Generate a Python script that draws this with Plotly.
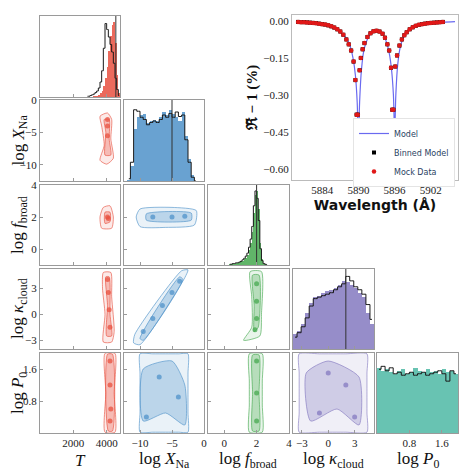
import plotly.graph_objects as go

W = H = 474
OFF = 8  # page body margin the browser adds around the plot div

# panel pixel boxes (left, right) per column and (top, bottom) per row
COLS = [(40, 120), (124, 204), (208, 289), (293, 374), (377, 458)]
ROWS = [(16, 97), (100, 181), (185, 265), (269, 349), (353, 433)]
COLORS = ["#e8503f", "#4f92c9", "#45a84f", "#8479c0", "#4db8a4"]

# parameter ranges, ticks and labels
ranges = [[0, 4800], [-12.5, 0], [-1, 4], [-4, 5.2], [0, 2]]
ticks = [[2000, 4000], [-10, -5, 0], [0, 2, 4], [-3, 0, 3], [0.8, 1.6]]
labels = ["<i>T</i>", "log <i>X</i><sub>Na</sub>", "log <i>f</i><sub>broad</sub>",
          "log <i>κ</i><sub>cloud</sub>", "log <i>P</i><sub>0</sub>"]
truths = [4550, -5, 2.0, 2.0, None]

# 1D histograms: bin start, bin width, filled (posterior) counts, black (reference) counts
T_start, T_width = 2800, 100
T_fill = [0, 0, 0, 0, 1, 1, 2, 3, 5, 8, 15, 25, 40, 62, 82, 96, 100, 72, 30, 5]
T_line = [1, 1, 2, 3, 4, 6, 8, 12, 20, 35, 65, 98, 90, 80, 70, 60, 45, 25, 10, 2]
X_start, X_width = -12, 0.5
X_fill = [2, 20, 70, 85, 88, 90, 78, 80, 82, 80, 85, 92, 88, 95, 90, 85, 80, 92, 60, 30, 8, 0]
X_line = [3, 25, 95, 93, 85, 82, 75, 78, 80, 78, 82, 88, 85, 90, 85, 92, 86, 88, 55, 25, 5, 0]
F_start, F_width = 0.3, 0.1
F_fill = [1, 1, 2, 2, 3, 3, 4, 5, 6, 8, 10, 14, 20, 30, 45, 70, 95, 100, 75, 30, 8, 2, 1, 0]
F_line = [1, 1, 2, 2, 3, 3, 4, 5, 7, 9, 12, 16, 24, 35, 52, 80, 100, 90, 60, 22, 6, 2, 1, 0]
K_start, K_width = -4, 0.46
K_fill = [20, 24, 34, 48, 62, 70, 72, 76, 78, 80, 82, 86, 92, 90, 86, 82, 76, 70, 48, 34]
K_line = [16, 22, 30, 42, 58, 68, 70, 72, 74, 76, 80, 84, 88, 98, 92, 84, 80, 74, 60, 40]
P_start, P_width = 0, 0.1
P_fill = [88, 84, 86, 82, 80, 84, 86, 80, 82, 88, 84, 82, 86, 82, 84, 80, 86, 82, 84, 80]
P_line = [86, 90, 84, 88, 80, 82, 78, 80, 82, 78, 80, 82, 78, 80, 82, 84, 80, 70, 84, 80]
hists = [(T_start, T_width, T_fill, T_line), (X_start, X_width, X_fill, X_line),
         (F_start, F_width, F_fill, F_line), (K_start, K_width, K_fill, K_line),
         (P_start, P_width, P_fill, P_line)]

# 2D credible-region outlines (outer, inner) per (row, col) panel
contours = {
    (1, 0): [[(3600, -2.5), (4050, -2), (4300, -3), (4250, -6), (4400, -9), (4000, -9.9), (3600, -9.3), (3850, -7), (3700, -4)],
             [(3850, -3), (4150, -3), (4150, -6), (4250, -8.5), (3900, -8.5), (3950, -5)]],
    (2, 0): [[(3700, 1.3), (4300, 1.3), (4400, 2), (4200, 2.7), (3800, 2.6), (3600, 2)],
             [(3900, 1.6), (4200, 1.7), (4200, 2.3), (3900, 2.3)]],
    (3, 0): [[(3800, 4.8), (4250, 4.8), (4300, 2), (4450, -2), (4300, -3.2), (3800, -3.2), (3900, 0), (3750, 3)],
             [(3950, 4.3), (4150, 4.3), (4200, 0), (4300, -2.5), (4000, -2.5), (4050, 1)]],
    (4, 0): [[(3900, 1.99), (4500, 1.99), (4450, 1), (4500, 0.02), (3900, 0.02), (3950, 1)],
             [(4050, 1.97), (4350, 1.97), (4350, 0.05), (4100, 0.05)]],
    (2, 1): [[(-10, 1.4), (-6, 1.35), (-1.5, 1.5), (-1.2, 2.4), (-5, 2.6), (-10, 2.5), (-10.6, 2)],
             [(-9, 1.8), (-2, 1.8), (-2, 2.25), (-9, 2.2)]],
    (3, 1): [[(-11, -3.3), (-10, -3.5), (-3, 4.2), (-2.5, 5.1), (-3.5, 5), (-10.8, -2.3)],
             [(-10, -2.8), (-9.5, -3), (-3.3, 4), (-3.8, 4.3)]],
    (4, 1): [[(-10, 0.02), (-8, 0.02), (-6, 0.02), (-4, 0.02), (-2.5, 0.02), (-2.5, 0.5), (-2.5, 1), (-2.5, 1.5),
              (-2.5, 1.98), (-4, 1.98), (-6, 1.98), (-8, 1.98), (-10, 1.98), (-10, 1.5), (-10, 1), (-10, 0.5)],
             [(-9.5, 0.3), (-6, 0.5), (-3, 0.2), (-3, 1.2), (-5, 1.8), (-9.5, 1.6)]],
    (3, 2): [[(1.6, 4.9), (2.3, 4.9), (2.3, 0), (2.2, -2.5), (1.2, -3), (1.7, -1.5), (1.7, 2)],
             [(1.75, 4.5), (2.15, 4.5), (2.1, -1.5), (1.85, -2), (1.85, 1)]],
    (4, 2): [[(1.55, 0.02), (2.35, 0.02), (2.35, 0.7), (2.35, 1.3), (2.35, 1.98), (1.55, 1.98), (1.55, 1.3), (1.55, 0.7)],
             [(1.75, 0.05), (2.15, 0.05), (2.15, 1), (2.15, 1.95), (1.75, 1.95), (1.75, 1)]],
    (4, 3): [[(-3.3, 0.02), (-1, 0.02), (2, 0.02), (4.4, 0.02), (4.4, 0.5), (4.4, 1), (4.4, 1.5), (4.4, 1.98),
              (2, 1.98), (-1, 1.98), (-3.3, 1.98), (-3.3, 1.5), (-3.3, 1), (-3.3, 0.5)],
             [(-2, 0.3), (1, 0.6), (3.5, 0.2), (3.5, 1.4), (0, 1.8), (-2.5, 1.5)]],
}
# high-density spots inside each panel
spots = {
    (1, 0): [(4050, -3), (4050, -5.5), (4050, -4)],
    (2, 0): [(4050, 2), (4100, 1.9)],
    (3, 0): [(4050, 4), (4100, 2.5), (4150, 0.5), (4200, -1.5)],
    (4, 0): [(4200, 1.8), (4200, 1.2), (4250, 0.6), (4200, 0.3)],
    (2, 1): [(-8, 2), (-5, 2), (-3, 2.05)],
    (3, 1): [(-9.5, -2), (-8, -0.5), (-6.5, 1), (-5, 2.5), (-3.8, 3.8)],
    (4, 1): [(-9, 0.4), (-4, 0.9), (-7, 1.4)],
    (3, 2): [(2, 3.5), (2, 1.5), (2, -0.5), (1.9, -1.8)],
    (4, 2): [(2, 1.8), (2, 1.0), (2, 0.3)],
    (4, 3): [(-1, 0.5), (2, 1.2), (0, 1.5), (3, 0.4)],
}

# transmission spectrum inset
model_wl = [5880, 5882, 5884, 5885, 5886, 5887, 5888, 5888.6, 5889.1, 5889.5, 5889.8, 5890, 5890.2, 5890.5,
            5890.9, 5891.4, 5892, 5892.6, 5893, 5893.6, 5894.2, 5894.7, 5895.1, 5895.5, 5895.8, 5896,
            5896.2, 5896.5, 5896.9, 5897.4, 5898, 5899, 5900, 5901, 5902, 5904, 5906]
model_val = [-0.005, -0.008, -0.015, -0.02, -0.03, -0.045, -0.07, -0.10, -0.15, -0.22, -0.33, -0.50, -0.33,
             -0.20, -0.12, -0.08, -0.05, -0.04, -0.04, -0.045, -0.06, -0.09, -0.13, -0.2, -0.3, -0.46,
             -0.3, -0.18, -0.11, -0.07, -0.045, -0.025, -0.016, -0.011, -0.008, -0.005, -0.003]
mock_wl = [5880, 5880.5, 5881, 5881.5, 5882, 5882.5, 5883, 5883.5, 5884, 5884.5, 5885, 5885.5, 5886, 5886.5,
           5887, 5887.5, 5888, 5888.4, 5888.8, 5889.2, 5889.5, 5889.7, 5889.9, 5890.2, 5890.4, 5890.7,
           5891, 5891.5, 5892, 5892.5, 5893, 5893.5, 5894, 5894.4, 5894.8, 5895.1, 5895.4, 5895.6,
           5895.8, 5896.1, 5896.4, 5896.8, 5897.2, 5897.6, 5898, 5898.5, 5899, 5899.5, 5900, 5900.5,
           5901, 5901.5, 5902, 5902.5, 5903, 5903.5, 5904]
mock_val = [-0.004, -0.005, -0.005, -0.006, -0.007, -0.008, -0.009, -0.011, -0.013, -0.015, -0.018, -0.022,
            -0.027, -0.034, -0.043, -0.056, -0.075, -0.095, -0.12, -0.165, -0.24, -0.38, -0.38, -0.2,
            -0.15, -0.115, -0.09, -0.065, -0.05, -0.042, -0.04, -0.043, -0.052, -0.068, -0.095, -0.12,
            -0.19, -0.36, -0.36, -0.185, -0.14, -0.1, -0.075, -0.058, -0.046, -0.034, -0.026, -0.02,
            -0.016, -0.013, -0.011, -0.009, -0.008, -0.007, -0.006, -0.005, -0.004]
binned_val = mock_val
wl_ticks = [5884, 5890, 5896, 5902]
res_ticks = [0.0, -0.15, -0.30, -0.45, -0.60]


def rgba(hex_color, a):
    h = hex_color.lstrip("#")
    return "rgba(%d,%d,%d,%s)" % (int(h[0:2], 16), int(h[2:4], 16), int(h[4:6], 16), a)


def px(x):
    return (x - OFF) / W


def py(y):
    return 1 - (y - OFF) / H


fig = go.Figure()
layout = {}
SERIF = "Liberation Serif"
n = 0


def add_axes(row, col):
    global n
    n += 1
    x0, x1 = COLS[col]
    y0, y1 = ROWS[row]
    common = dict(showgrid=False, zeroline=False, showline=True, mirror=True, linecolor="#9a9a9a",
                  linewidth=1, ticks="inside", ticklen=3, tickcolor="#9a9a9a",
                  tickfont=dict(family=SERIF, size=11, color="#222"))
    layout["xaxis%d" % n] = dict(common, domain=[px(x0), px(x1)], anchor="y%d" % n, range=ranges[col],
                                 tickvals=ticks[col], showticklabels=(row == 4))
    yax = dict(common, domain=[py(y1), py(y0)], anchor="x%d" % n,
               showticklabels=(col == 0 and row != 0))
    if row != col:
        yax.update(range=ranges[row], tickvals=ticks[row])
    else:
        yax.update(range=[0, 108], showticklabels=False, ticks="")
    layout["yaxis%d" % n] = yax
    return "x%d" % n, "y%d" % n


for row in range(5):
    for col in range(row + 1):
        xa, ya = add_axes(row, col)
        c = COLORS[col]
        if row == col:
            start, width, fill, line = hists[col]
            centers = [start + width * (i + 0.5) for i in range(len(fill))]
            fig.add_trace(go.Bar(x=centers, y=fill, width=width, marker_color=rgba(c, 0.85),
                                 marker_line_width=0, xaxis=xa, yaxis=ya, showlegend=False))
            fig.add_trace(go.Scatter(x=centers, y=line, mode="lines", line_shape="hvh",
                                     line=dict(color="#1a1a1a", width=1), xaxis=xa, yaxis=ya,
                                     showlegend=False))
            if truths[col] is not None:
                fig.add_trace(go.Scatter(x=[truths[col], truths[col]], y=[0, 108], mode="lines",
                                         line=dict(color="#333", width=1), xaxis=xa, yaxis=ya,
                                         showlegend=False))
        else:
            outer, inner = contours[(row, col)]
            for poly, a in ((outer, 0.12), (inner, 0.3)):
                xs = [p[0] for p in poly] + [poly[0][0]]
                ys = [p[1] for p in poly] + [poly[0][1]]
                fig.add_trace(go.Scatter(x=xs, y=ys, mode="lines", fill="toself", fillcolor=rgba(c, a),
                                         line=dict(color=rgba(c, 0.8), width=0.8, shape="spline", smoothing=0.6),
                                         xaxis=xa, yaxis=ya, showlegend=False))
            sp = spots[(row, col)]
            fig.add_trace(go.Scatter(x=[p[0] for p in sp], y=[p[1] for p in sp], mode="markers",
                                     marker=dict(color=rgba(c, 0.75), size=5), xaxis=xa, yaxis=ya,
                                     showlegend=False))

# inset spectrum
n += 1
layout["xaxis%d" % n] = dict(domain=[px(292), px(458)], anchor="y%d" % n, range=[5879, 5906.5],
                             tickvals=wl_ticks, showgrid=False, zeroline=False, showline=True, mirror=True,
                             linecolor="#bbb", ticks="", tickfont=dict(family=SERIF, size=11, color="#222"),
                             title=dict(text="<b>Wavelength (Å)</b>", standoff=4,
                                        font=dict(family="DejaVu Sans", size=14, color="#111")))
layout["yaxis%d" % n] = dict(domain=[py(180), py(15)], anchor="x%d" % n, range=[-0.645, 0.024],
                             tickvals=res_ticks, ticktext=["0.00", "−0.15", "−0.30", "−0.45", "−0.60"],
                             showgrid=False, zeroline=False, showline=True, mirror=True, linecolor="#bbb",
                             ticks="", tickfont=dict(family=SERIF, size=11, color="#222"),
                             title=dict(text="<b>ℜ̃ − 1 (%)</b>", standoff=2,
                                        font=dict(family=SERIF, size=15, color="#111")))
xa, ya = "x%d" % n, "y%d" % n
fig.add_trace(go.Scatter(x=model_wl, y=model_val, mode="lines", line=dict(color="#6a6af0", width=1.2),
                         line_shape="spline", name="Model", xaxis=xa, yaxis=ya))
fig.add_trace(go.Scatter(x=mock_wl, y=binned_val, mode="markers", marker=dict(color="black", size=4, symbol="square"),
                         name="Binned Model", xaxis=xa, yaxis=ya))
fig.add_trace(go.Scatter(x=mock_wl, y=mock_val, mode="markers", marker=dict(color="#e01818", size=4.5),
                         name="Mock Data", xaxis=xa, yaxis=ya))

# corner axis titles
ann = []
for i, lab in enumerate(labels):
    cx = (COLS[i][0] + COLS[i][1]) / 2
    ann.append(dict(text=lab, x=px(cx), y=py(460), xref="paper", yref="paper", showarrow=False,
                    xanchor="center", yanchor="middle", font=dict(family=SERIF, size=17, color="#111")))
    if i > 0:
        cy = (ROWS[i][0] + ROWS[i][1]) / 2
        ann.append(dict(text=lab, x=px(19), y=py(cy), xref="paper", yref="paper", showarrow=False,
                        xanchor="center", yanchor="middle", textangle=-90,
                        font=dict(family=SERIF, size=17, color="#111")))

fig.update_layout(width=W, height=H, margin=dict(l=0, r=0, t=0, b=0, autoexpand=False), plot_bgcolor="white",
                  paper_bgcolor="white", bargap=0, annotations=ann,
                  legend=dict(x=px(455), y=py(118), xanchor="right", yanchor="top", bgcolor="white",
                              bordercolor="#e4e4e4", borderwidth=1, font=dict(family="DejaVu Sans", size=8),
                              tracegroupgap=0, itemwidth=30),
                  **layout)
fig.write_html("out.html")
